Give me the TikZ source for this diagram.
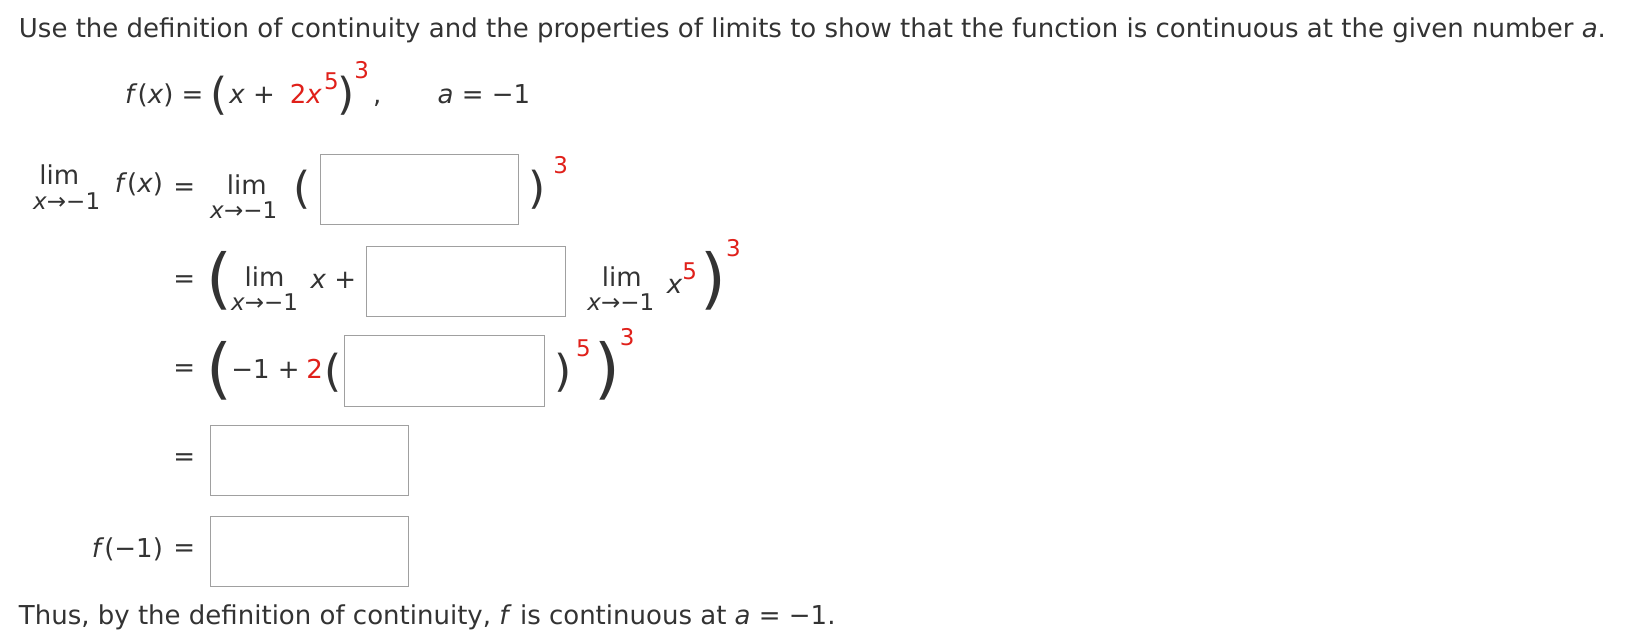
\documentclass[tikz,border=0pt]{standalone}
\usepackage{fontspec}
\setmainfont{DejaVu Sans}
\begin{document}
\begin{tikzpicture}[x=1.0415pt,y=-1.0415pt,
  txt/.style={inner sep=0pt,text=tx,font=\fontsize{26}{30}\selectfont},
  sm/.style={inner sep=0pt,text=tx,font=\fontsize{23}{26}\selectfont},
  red/.style={inner sep=0pt,text=rd,font=\fontsize{26}{30}\selectfont},
  rsup/.style={inner sep=0pt,text=rd,font=\fontsize{23}{26}\selectfont},
  bigp/.style={inner sep=0pt,text=tx,font=\fontsize{66}{66}\selectfont},
  midp/.style={inner sep=0pt,text=tx,font=\fontsize{44}{44}\selectfont},
  ansbox/.style={draw=bx,line width=1pt,fill=white}]
\definecolor{tx}{HTML}{333333}
\definecolor{rd}{HTML}{E0201A}
\definecolor{bx}{HTML}{A0A0A0}
\useasboundingbox (0,0) rectangle (1565,614.5);
\fill[white] (0,0) rectangle (1565,614.5);
% title
\node[txt,anchor=base west] (title) at (18,36) {Use the definition of continuity and the properties of limits to show that the function is continuous at the given number \textit{a}.};
% function line
\node[txt,anchor=base west] (fx) at (120,99) {\textit{f}(\textit{x}) =};
\node[midp] (p1) at (210,92) {(};
\node[txt,anchor=base west] (xp) at (220,99) {\textit{x} +};
\node[red,anchor=base west] (tx5) at (278,99) {2\textit{x}};
\node[rsup,anchor=base west] (t5) at (311,86) {5};
\node[midp] (p2) at (332,92) {)};
\node[rsup,anchor=base west] (t3) at (340,75) {3};
\node[txt,anchor=base west] (cm) at (358,99) {,};
\node[txt,anchor=base west] (aeq) at (420,99) {\textit{a} = −1};
% row 1
\node[txt,anchor=base] (lim1) at (57,177) {lim};
\node[sm,anchor=base] (sub1) at (64,201) {\textit{x}→−1};
\node[txt,anchor=base west] (f1) at (110,185) {\textit{f}(\textit{x})};
\node[txt] (eq1) at (177,182) {=};
\node[txt,anchor=base] (lim2) at (237,187) {lim};
\node[sm,anchor=base] (sub2) at (234,210) {\textit{x}→−1};
\node[midp] (p3) at (290,182) {(};
\node[ansbox,minimum width=198pt,minimum height=70pt,anchor=north west] (b1) at (307,148) {};
\node[midp] (p4) at (516,182) {)};
\node[rsup,anchor=base west] (r3) at (531,167) {3};
% row 2
\node[txt] (eq2) at (177,270) {=};
\node[bigp] (p5) at (211,270) {(};
\node[txt,anchor=base] (lim3) at (254,275) {lim};
\node[sm,anchor=base] (sub3) at (254,298) {\textit{x}→−1};
\node[txt,anchor=base west] (xp2) at (298,277) {\textit{x} +};
\node[ansbox,minimum width=199pt,minimum height=70pt,anchor=north west] (b2) at (351,236) {};
\node[txt,anchor=base] (lim4) at (597,275) {lim};
\node[sm,anchor=base] (sub4) at (596,298) {\textit{x}→−1};
\node[txt,anchor=base west] (x5) at (640,282) {\textit{x}};
\node[rsup,anchor=base west] (r5a) at (655,268) {5};
\node[bigp] (p6) at (685,270) {)};
\node[rsup,anchor=base west] (r3b) at (697,246) {3};
% row 3
\node[txt] (eq3) at (177,356) {=};
\node[bigp] (p7) at (211,356) {(};
\node[txt,anchor=base west] (m1) at (222,363) {−1 +};
\node[red,anchor=base west] (two) at (294,363) {2};
\node[midp] (p8) at (320,358) {(};
\node[ansbox,minimum width=200pt,minimum height=71pt,anchor=north west] (b3) at (330,322) {};
\node[midp] (p9) at (541,358) {)};
\node[rsup,anchor=base west] (r5b) at (553,342) {5};
\node[bigp] (p10) at (583,356) {)};
\node[rsup,anchor=base west] (r3c) at (595,332) {3};
% row 4
\node[txt] (eq4) at (177,441) {=};
\node[ansbox,minimum width=198pt,minimum height=70pt,anchor=north west] (b4) at (202,408) {};
% row 5
\node[txt,anchor=base west] (fm1) at (88,535) {\textit{f}(−1)};
\node[txt] (eq5) at (177,529) {=};
\node[ansbox,minimum width=198pt,minimum height=70pt,anchor=north west] (b5) at (202,495) {};
% conclusion
\node[txt,anchor=base west] (thus) at (18,600) {Thus, by the definition of continuity, \textit{f} is continuous at \textit{a} = −1.};
\end{tikzpicture}
\end{document}
